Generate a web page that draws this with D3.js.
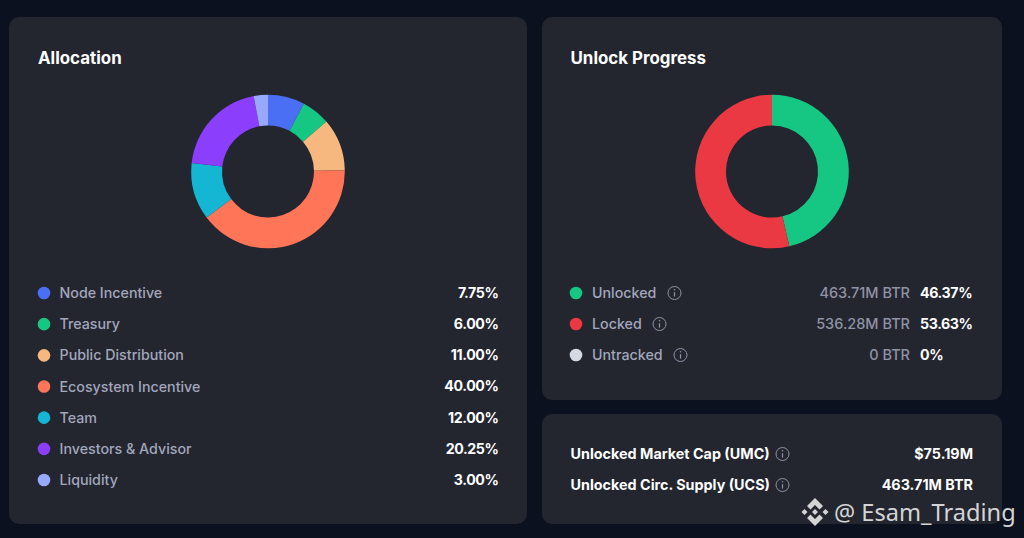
<!DOCTYPE html>
<html>
<head>
<meta charset="utf-8">
<script src="https://cdn.jsdelivr.net/npm/d3@7"></script>
<style>
  html, body { margin: 0; padding: 0; background: #0b111e; overflow: hidden; }
  svg { display: block; font-family: Inter, "Noto Sans", sans-serif; }
  .title { fill: #fff; font-size: 16.9px; font-weight: 700; }
  .label { fill: #a2a7bb; font-size: 14.25px; font-weight: 500; }
  .amount { fill: #8f93a5; font-size: 14.5px; font-weight: 500; }
  .pct { fill: #fff; font-size: 14.2px; font-weight: 700; letter-spacing: -0.4px; }
  .stat { fill: #fff; font-size: 14.35px; font-weight: 700; }
</style>
</head>
<body>
<svg id="chart" width="1024" height="538"></svg>
<script>
// allocation
const allocNames = ["Node Incentive", "Treasury", "Public Distribution", "Ecosystem Incentive", "Team", "Investors & Advisor", "Liquidity"];
const allocValues = [7.75, 6, 11, 40, 12, 20.25, 3];
const allocLabels = ["7.75%", "6.00%", "11.00%", "40.00%", "12.00%", "20.25%", "3.00%"];
const allocColors = ["#4a6ff5", "#16c784", "#f6b87e", "#ff7558", "#14b6d4", "#8b3ffc", "#98a8fb"];

// unlock progress
const unlockNames = ["Unlocked", "Locked", "Untracked"];
const unlockValues = [46.37, 53.63, 0];
const unlockAmounts = ["463.71M BTR", "536.28M BTR", "0 BTR"];
const unlockLabels = ["46.37%", "53.63%", "0%"];
const unlockColors = ["#16c784", "#ea3943", "#d5d9e3"];

// stats
const statNames = ["Unlocked Market Cap (UMC)", "Unlocked Circ. Supply (UCS)"];
const statValues = ["$75.19M", "463.71M BTR"];

const svg = d3.select("#chart");

// cards
const cards = [
  { x: 9, y: 17, w: 518, h: 507 },
  { x: 542, y: 17, w: 460, h: 383 },
  { x: 542, y: 414, w: 460, h: 110 },
];
svg.selectAll("rect.card")
  .data(cards)
  .enter()
  .append("rect")
  .attr("class", "card")
  .attr("x", d => d.x)
  .attr("y", d => d.y)
  .attr("width", d => d.w)
  .attr("height", d => d.h)
  .attr("rx", 10)
  .attr("fill", "#23252f");

svg.append("text").attr("class", "title").attr("x", 38).attr("y", 64).text("Allocation");
svg.append("text").attr("class", "title").attr("x", 570.5).attr("y", 64).text("Unlock Progress");

// donuts
const pie = d3.pie().sort(null);
const arc = d3.arc().innerRadius(46).outerRadius(76.8);

function donut(cx, cy, values, colors) {
  svg.append("g")
    .attr("transform", "translate(" + cx + "," + cy + ")")
    .selectAll("path")
    .data(pie(values))
    .enter()
    .append("path")
    .attr("d", arc)
    .attr("fill", (d, i) => colors[i]);
}
donut(268, 171.5, allocValues, allocColors);
donut(772, 171.5, unlockValues, unlockColors);

// info icon
function info(x, y, r) {
  const g = svg.append("g").attr("transform", "translate(" + x + "," + y + ")");
  g.append("circle").attr("r", r).attr("fill", "none").attr("stroke", "#8f93a5").attr("stroke-width", 1);
  g.append("line").attr("y1", -0.8).attr("y2", r * 0.55).attr("stroke", "#8f93a5").attr("stroke-width", 1.2);
  g.append("circle").attr("cy", -r * 0.5).attr("r", 0.8).attr("fill", "#8f93a5");
}

// allocation legend
const allocY = d3.scalePoint().domain(allocNames).range([293, 480]);
const allocRow = svg.selectAll("g.alloc")
  .data(allocNames)
  .enter()
  .append("g")
  .attr("class", "alloc")
  .attr("transform", d => "translate(0," + allocY(d) + ")");
allocRow.append("circle").attr("cx", 44).attr("r", 6.3).attr("fill", (d, i) => allocColors[i]);
allocRow.append("text").attr("class", "label").attr("x", 59.5).attr("dy", "0.35em").text(d => d);
allocRow.append("text").attr("class", "pct").attr("x", 498.5).attr("dy", "0.35em")
  .attr("text-anchor", "end").text((d, i) => allocLabels[i]);

// unlock legend
const unlockY = d3.scalePoint().domain(unlockNames).range([293, 355]);
const infoX = [674.5, 659.5, 680.5];
const unlockRow = svg.selectAll("g.unlock")
  .data(unlockNames)
  .enter()
  .append("g")
  .attr("class", "unlock")
  .attr("transform", d => "translate(0," + unlockY(d) + ")");
unlockRow.append("circle").attr("cx", 576).attr("r", 6.3).attr("fill", (d, i) => unlockColors[i]);
unlockRow.append("text").attr("class", "label").attr("x", 592).attr("dy", "0.35em").text(d => d);
unlockRow.append("text").attr("class", "amount").attr("x", 910).attr("dy", "0.35em")
  .attr("text-anchor", "end").text((d, i) => unlockAmounts[i]);
unlockRow.append("text").attr("class", "pct").attr("x", 920).attr("dy", "0.35em").text((d, i) => unlockLabels[i]);
unlockNames.forEach((d, i) => info(infoX[i], unlockY(d), 6.5));

// stats
const statY = d3.scalePoint().domain(statNames).range([454, 485]);
const statRow = svg.selectAll("g.stat-row")
  .data(statNames)
  .enter()
  .append("g")
  .attr("class", "stat-row")
  .attr("transform", d => "translate(0," + statY(d) + ")");
statRow.append("text").attr("class", "stat").attr("x", 570.5).attr("dy", "0.35em").text(d => d);
statRow.append("text").attr("class", "stat").attr("x", 973).attr("dy", "0.35em")
  .attr("text-anchor", "end").text((d, i) => statValues[i]);
statNames.forEach(d => info(782.5, statY(d), 6.5));

// watermark
const wm = svg.append("g").attr("transform", "translate(815,512)").attr("fill", "#d4d4d6");
wm.append("path").attr("d", "M0,-14 L8,-6 L4.5,-2.5 L0,-7 L-4.5,-2.5 L-8,-6 Z");
wm.append("path").attr("d", "M0,14 L8,6 L4.5,2.5 L0,7 L-4.5,2.5 L-8,6 Z");
wm.append("path").attr("d", "M0,-3 L3,0 L0,3 L-3,0 Z");
wm.append("path").attr("d", "M-10.5,-3 L-7.5,0 L-10.5,3 L-13.5,0 Z");
wm.append("path").attr("d", "M10.5,-3 L13.5,0 L10.5,3 L7.5,0 Z");
svg.append("text")
  .attr("x", 834)
  .attr("y", 521)
  .attr("fill", "#d4d4d6")
  .style("font-family", '"Noto Sans", sans-serif')
  .style("font-size", "23.6px")
  .text("@ Esam_Trading");
</script>
</body>
</html>
